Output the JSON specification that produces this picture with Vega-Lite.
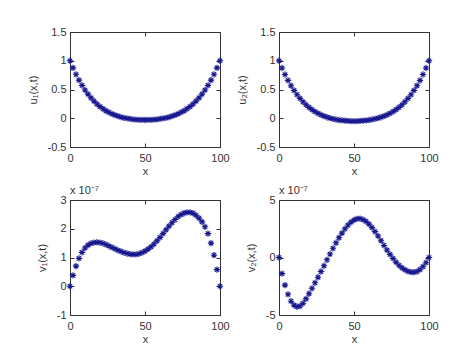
{
  "$schema": "https://vega.github.io/schema/vega-lite/v6.json",
  "background": "white",
  "autosize": {"type": "pad"},
  "padding": {"left": 26, "top": 25, "right": 5, "bottom": 5},
  "config": {
    "font": "Liberation Sans",
    "view": {"stroke": "#333333", "strokeWidth": 1},
    "axis": {
      "grid": false, "domain": false, "tickSize": -4, "tickColor": "#333333", "labelFlush": false, "labelOverlap": false,
      "labelFont": "Liberation Sans", "labelFontSize": 11, "labelColor": "#333333", "labelPadding": 8,
      "titleFont": "Liberation Sans", "titleFontSize": 11, "titleFontWeight": "normal", "titleColor": "#333333"
    },
    "axisX": {"labelPadding": 9, "titlePadding": 2},
    "axisY": {"titlePadding": 9},
    "title": {"font": "Liberation Sans", "fontSize": 11, "fontWeight": "normal", "color": "#333333", "anchor": "start", "frame": "group", "offset": -2}
  },
  "datasets": {
    "d": [
      {"x": 0, "u1": 1, "u2": 1, "v1": 0, "v2": 0},
      {"x": 2, "u1": 0.876, "u2": 0.874, "v1": 0.38e-7, "v2": -1.4e-7},
      {"x": 4, "u1": 0.764, "u2": 0.761, "v1": 0.70e-7, "v2": -2.4e-7},
      {"x": 6, "u1": 0.663, "u2": 0.658, "v1": 0.97e-7, "v2": -3.2e-7},
      {"x": 8, "u1": 0.572, "u2": 0.566, "v1": 1.18e-7, "v2": -3.8e-7},
      {"x": 10, "u1": 0.491, "u2": 0.484, "v1": 1.33e-7, "v2": -4.15e-7},
      {"x": 12, "u1": 0.419, "u2": 0.410, "v1": 1.43e-7, "v2": -4.28e-7},
      {"x": 14, "u1": 0.354, "u2": 0.345, "v1": 1.49e-7, "v2": -4.22e-7},
      {"x": 16, "u1": 0.297, "u2": 0.286, "v1": 1.52e-7, "v2": -3.98e-7},
      {"x": 18, "u1": 0.247, "u2": 0.235, "v1": 1.53e-7, "v2": -3.6e-7},
      {"x": 20, "u1": 0.203, "u2": 0.190, "v1": 1.52e-7, "v2": -3.15e-7},
      {"x": 22, "u1": 0.164, "u2": 0.150, "v1": 1.49e-7, "v2": -2.68e-7},
      {"x": 24, "u1": 0.130, "u2": 0.116, "v1": 1.45e-7, "v2": -2.2e-7},
      {"x": 26, "u1": 0.101, "u2": 0.086, "v1": 1.40e-7, "v2": -1.72e-7},
      {"x": 28, "u1": 0.076, "u2": 0.060, "v1": 1.35e-7, "v2": -1.22e-7},
      {"x": 30, "u1": 0.054, "u2": 0.037, "v1": 1.30e-7, "v2": -0.72e-7},
      {"x": 32, "u1": 0.036, "u2": 0.018, "v1": 1.25e-7, "v2": -0.2e-7},
      {"x": 34, "u1": 0.020, "u2": 0.002, "v1": 1.21e-7, "v2": 0.3e-7},
      {"x": 36, "u1": 0.007, "u2": -0.011, "v1": 1.17e-7, "v2": 0.8e-7},
      {"x": 38, "u1": -0.003, "u2": -0.022, "v1": 1.14e-7, "v2": 1.28e-7},
      {"x": 40, "u1": -0.012, "u2": -0.031, "v1": 1.12e-7, "v2": 1.72e-7},
      {"x": 42, "u1": -0.019, "u2": -0.038, "v1": 1.11e-7, "v2": 2.12e-7},
      {"x": 44, "u1": -0.024, "u2": -0.043, "v1": 1.11e-7, "v2": 2.5e-7},
      {"x": 46, "u1": -0.027, "u2": -0.047, "v1": 1.13e-7, "v2": 2.82e-7},
      {"x": 48, "u1": -0.029, "u2": -0.049, "v1": 1.17e-7, "v2": 3.08e-7},
      {"x": 50, "u1": -0.030, "u2": -0.050, "v1": 1.22e-7, "v2": 3.26e-7},
      {"x": 52, "u1": -0.029, "u2": -0.049, "v1": 1.29e-7, "v2": 3.36e-7},
      {"x": 54, "u1": -0.027, "u2": -0.047, "v1": 1.37e-7, "v2": 3.38e-7},
      {"x": 56, "u1": -0.024, "u2": -0.043, "v1": 1.47e-7, "v2": 3.3e-7},
      {"x": 58, "u1": -0.019, "u2": -0.038, "v1": 1.58e-7, "v2": 3.14e-7},
      {"x": 60, "u1": -0.012, "u2": -0.031, "v1": 1.70e-7, "v2": 2.9e-7},
      {"x": 62, "u1": -0.003, "u2": -0.022, "v1": 1.83e-7, "v2": 2.6e-7},
      {"x": 64, "u1": 0.007, "u2": -0.011, "v1": 1.96e-7, "v2": 2.25e-7},
      {"x": 66, "u1": 0.020, "u2": 0.002, "v1": 2.09e-7, "v2": 1.87e-7},
      {"x": 68, "u1": 0.036, "u2": 0.018, "v1": 2.21e-7, "v2": 1.46e-7},
      {"x": 70, "u1": 0.054, "u2": 0.037, "v1": 2.32e-7, "v2": 1.05e-7},
      {"x": 72, "u1": 0.076, "u2": 0.060, "v1": 2.42e-7, "v2": 0.65e-7},
      {"x": 74, "u1": 0.101, "u2": 0.086, "v1": 2.49e-7, "v2": 0.27e-7},
      {"x": 76, "u1": 0.130, "u2": 0.116, "v1": 2.54e-7, "v2": -0.08e-7},
      {"x": 78, "u1": 0.164, "u2": 0.150, "v1": 2.57e-7, "v2": -0.4e-7},
      {"x": 80, "u1": 0.203, "u2": 0.190, "v1": 2.57e-7, "v2": -0.68e-7},
      {"x": 82, "u1": 0.247, "u2": 0.235, "v1": 2.54e-7, "v2": -0.9e-7},
      {"x": 84, "u1": 0.297, "u2": 0.286, "v1": 2.47e-7, "v2": -1.08e-7},
      {"x": 86, "u1": 0.354, "u2": 0.345, "v1": 2.37e-7, "v2": -1.2e-7},
      {"x": 88, "u1": 0.419, "u2": 0.410, "v1": 2.24e-7, "v2": -1.27e-7},
      {"x": 90, "u1": 0.491, "u2": 0.484, "v1": 2.07e-7, "v2": -1.28e-7},
      {"x": 92, "u1": 0.572, "u2": 0.566, "v1": 1.83e-7, "v2": -1.22e-7},
      {"x": 94, "u1": 0.663, "u2": 0.658, "v1": 1.50e-7, "v2": -1.06e-7},
      {"x": 96, "u1": 0.764, "u2": 0.761, "v1": 1.08e-7, "v2": -0.8e-7},
      {"x": 98, "u1": 0.876, "u2": 0.874, "v1": 0.58e-7, "v2": -0.45e-7},
      {"x": 100, "u1": 1, "u2": 1, "v1": 0, "v2": 0}
    ]
  },
  "data": {"name": "d"},
  "columns": 2,
  "bounds": "flush",
  "spacing": {"row": 53, "column": 59},
  "concat": [
    {
      "width": 150, "height": 115,
      "resolve": {"axis": {"x": "independent", "y": "independent"}},
      "layer": [
        {
          "mark": {"type": "point", "shape": "M-1,0L1,0M0,-1L0,1M-0.7,-0.7L0.7,0.7M-0.7,0.7L0.7,-0.7", "filled": false, "stroke": "#16168f", "strokeWidth": 1.1, "size": 40, "opacity": 1},
          "encoding": {
            "x": {"field": "x", "type": "quantitative", "scale": {"domain": [0, 100], "nice": false}, "axis": {"values": [0, 50, 100], "title": "x"}},
            "y": {"field": "u1", "type": "quantitative", "scale": {"domain": [-0.5, 1.5], "nice": false, "zero": false}, "axis": {"values": [-0.5, 0, 0.5, 1, 1.5], "labelExpr": "'' + datum.value", "title": "u₁(x,t)"}}
          }
        },
        {
          "mark": {"type": "point", "opacity": 0},
          "encoding": {
            "x": {"field": "x", "type": "quantitative", "axis": {"orient": "top", "values": [0, 50, 100], "labels": false, "title": null}},
            "y": {"field": "u1", "type": "quantitative", "axis": {"orient": "right", "values": [-0.5, 0, 0.5, 1, 1.5], "labels": false, "title": null}}
          }
        }
      ]
    },
    {
      "width": 150, "height": 115,
      "resolve": {"axis": {"x": "independent", "y": "independent"}},
      "layer": [
        {
          "mark": {"type": "point", "shape": "M-1,0L1,0M0,-1L0,1M-0.7,-0.7L0.7,0.7M-0.7,0.7L0.7,-0.7", "filled": false, "stroke": "#16168f", "strokeWidth": 1.1, "size": 40, "opacity": 1},
          "encoding": {
            "x": {"field": "x", "type": "quantitative", "scale": {"domain": [0, 100], "nice": false}, "axis": {"values": [0, 50, 100], "title": "x"}},
            "y": {"field": "u2", "type": "quantitative", "scale": {"domain": [-0.5, 1.5], "nice": false, "zero": false}, "axis": {"values": [-0.5, 0, 0.5, 1, 1.5], "labelExpr": "'' + datum.value", "title": "u₂(x,t)"}}
          }
        },
        {
          "mark": {"type": "point", "opacity": 0},
          "encoding": {
            "x": {"field": "x", "type": "quantitative", "axis": {"orient": "top", "values": [0, 50, 100], "labels": false, "title": null}},
            "y": {"field": "u2", "type": "quantitative", "axis": {"orient": "right", "values": [-0.5, 0, 0.5, 1, 1.5], "labels": false, "title": null}}
          }
        }
      ]
    },
    {
      "width": 150, "height": 115,
      "title": {"text": "x 10⁻⁷"},
      "resolve": {"axis": {"x": "independent", "y": "independent"}},
      "layer": [
        {
          "mark": {"type": "point", "shape": "M-1,0L1,0M0,-1L0,1M-0.7,-0.7L0.7,0.7M-0.7,0.7L0.7,-0.7", "filled": false, "stroke": "#16168f", "strokeWidth": 1.1, "size": 40, "opacity": 1},
          "encoding": {
            "x": {"field": "x", "type": "quantitative", "scale": {"domain": [0, 100], "nice": false}, "axis": {"values": [0, 50, 100], "title": "x"}},
            "y": {"field": "v1", "type": "quantitative", "scale": {"domain": [-1e-7, 3e-7], "nice": false, "zero": false}, "axis": {"values": [-1e-7, 0, 1e-7, 2e-7, 3e-7], "labelExpr": "'' + round(datum.value * 1e7)", "title": "v₁(x,t)"}}
          }
        },
        {
          "mark": {"type": "point", "opacity": 0},
          "encoding": {
            "x": {"field": "x", "type": "quantitative", "axis": {"orient": "top", "values": [0, 50, 100], "labels": false, "title": null}},
            "y": {"field": "v1", "type": "quantitative", "axis": {"orient": "right", "values": [-1e-7, 0, 1e-7, 2e-7, 3e-7], "labels": false, "title": null}}
          }
        }
      ]
    },
    {
      "width": 150, "height": 115,
      "title": {"text": "x 10⁻⁷"},
      "resolve": {"axis": {"x": "independent", "y": "independent"}},
      "layer": [
        {
          "mark": {"type": "point", "shape": "M-1,0L1,0M0,-1L0,1M-0.7,-0.7L0.7,0.7M-0.7,0.7L0.7,-0.7", "filled": false, "stroke": "#16168f", "strokeWidth": 1.1, "size": 40, "opacity": 1},
          "encoding": {
            "x": {"field": "x", "type": "quantitative", "scale": {"domain": [0, 100], "nice": false}, "axis": {"values": [0, 50, 100], "title": "x"}},
            "y": {"field": "v2", "type": "quantitative", "scale": {"domain": [-5e-7, 5e-7], "nice": false, "zero": false}, "axis": {"values": [-5e-7, 0, 5e-7], "labelExpr": "'' + round(datum.value * 1e7)", "title": "v₂(x,t)"}}
          }
        },
        {
          "mark": {"type": "point", "opacity": 0},
          "encoding": {
            "x": {"field": "x", "type": "quantitative", "axis": {"orient": "top", "values": [0, 50, 100], "labels": false, "title": null}},
            "y": {"field": "v2", "type": "quantitative", "axis": {"orient": "right", "values": [-5e-7, 0, 5e-7], "labels": false, "title": null}}
          }
        }
      ]
    }
  ]
}
